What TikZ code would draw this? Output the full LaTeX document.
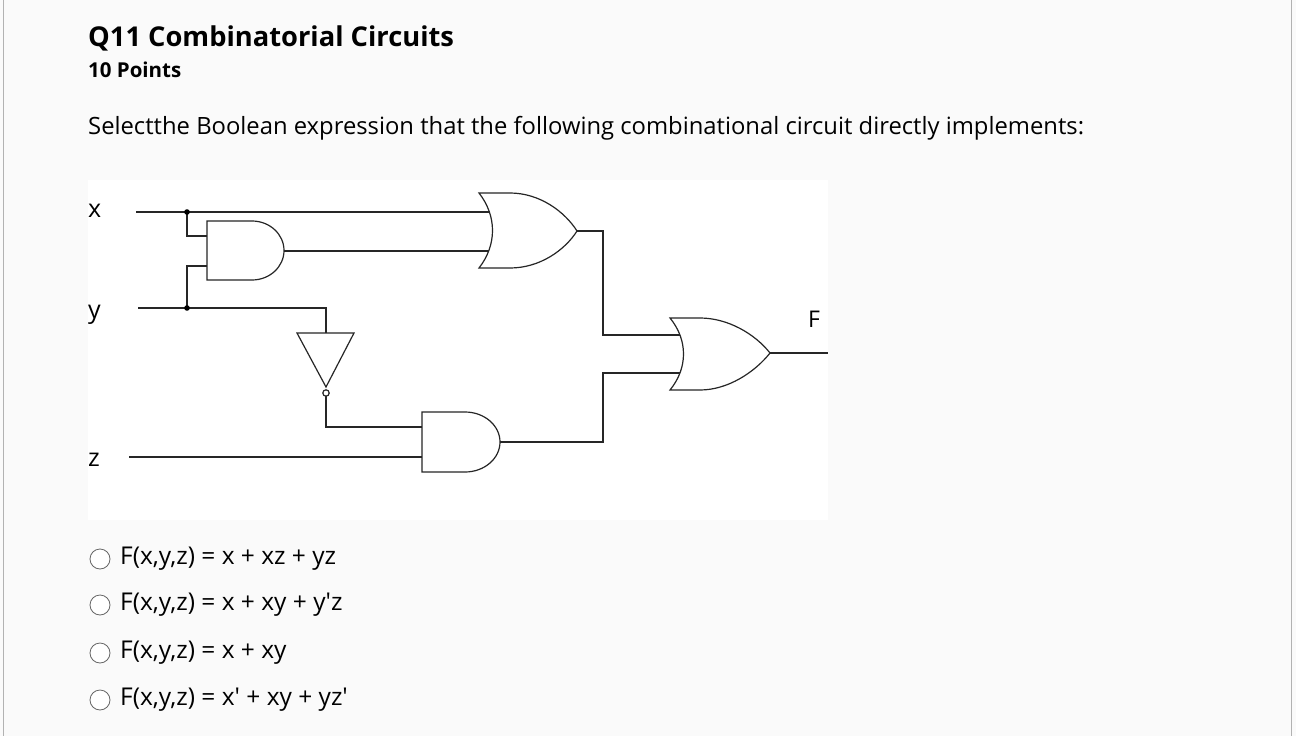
\documentclass[tikz,border=0pt]{standalone}
\usepackage{fontspec}
\setmainfont{Open Sans}
\begin{document}
\begin{tikzpicture}[x=1pt,y=-1pt,
  wire/.style={line width=1.2pt,black!85},
  gate/.style={line width=1.2pt,black!85,fill=white},
  lbl/.style={anchor=base west,inner sep=0pt},
  opt/.style={draw=black!60,line width=0.8pt,fill=white,circle,minimum size=20pt,inner sep=0pt}]
\useasboundingbox (0,0) rectangle (1296,736);
\fill[black!2] (0,0) rectangle (1296,736);
\draw[black!30,line width=1pt] (3,-2) -- (3,738) (1291,-2) -- (1291,738);
\node[lbl] (t) at (88,46) {\fontsize{27.3}{30}\selectfont\bfseries Q11 Combinatorial Circuits};
\node[lbl] (p) at (88,77) {\fontsize{20.5}{22}\selectfont\bfseries 10 Points};
\node[lbl] (q) at (88,134) {\fontsize{23.8}{26}\selectfont Selectthe Boolean expression that the following combinational circuit directly implements:};
\fill[white] (88,180) rectangle (828,520);
% labels
\node[lbl] (lx) at (88,217) {\fontsize{25}{26}\selectfont x};
\node[lbl] (ly) at (88,318) {\fontsize{25}{26}\selectfont y};
\node[lbl] (lz) at (88,466) {\fontsize{25}{26}\selectfont z};
\node[lbl] (lf) at (808,327) {\fontsize{23}{26}\selectfont F};
% coordinates
\coordinate (xs) at (136,212); \coordinate (xd) at (187,212);
\coordinate (ys) at (138,308); \coordinate (yd) at (187,308);
\coordinate (zs) at (129,457);
% wires
\draw[wire] (xs) -- (492,212);
\draw[wire] (xd) |- (207,236);
\draw[wire] (yd) |- (207,266);
\draw[wire] (ys) -- (326,308) -- (326,333);
\draw[wire] (326,396) |- (422,427);
\draw[wire] (zs) -- (422,457);
\draw[wire] (284,251) -- (492,251);
\draw[wire] (577,231) -| (603,335) -- (682,335);
\draw[wire] (500,442) -| (603,373) -- (682,373);
\draw[wire] (770,353) -- (828,353);
\fill[black] (xd) circle (2.8) (yd) circle (2.8);
% AND1
\draw[gate] (252,221) -- (207,221) -- (207,280) -- (252,280) arc (90:-90:32 and 29.5) -- cycle;
% OR1
\draw[gate] (479,193) -- (510,193) .. controls (540,193) and (565,212) .. (577,231)
  .. controls (565,250) and (540,268) .. (510,268) -- (479,268)
  .. controls (497,245) and (497,216) .. (479,193) -- cycle;
% NOT
\draw[gate] (297,333) -- (354,333) -- (326,387) -- cycle;
\draw[gate] (326,393) circle (3.2);
% AND2
\draw[gate] (465,412) -- (422,412) -- (422,472) -- (465,472) arc (90:-90:35 and 30) -- cycle;
% OR2
\draw[gate] (670,318) -- (700,318) .. controls (728,318) and (755,334) .. (770,353)
  .. controls (755,372) and (728,390) .. (700,390) -- (670,390)
  .. controls (688,368) and (688,340) .. (670,318) -- cycle;
% options
\foreach \yy/\tx [count=\i] in {559/{F(x,y,z) = x + xz + yz},605/{F(x,y,z) = x + xy + y\textquotesingle z},653/{F(x,y,z) = x + xy},700/{F(x,y,z) = x\textquotesingle{} + xy + yz\textquotesingle}}{
  \node[opt] (c\i) at (100,\yy) {};
  \node[anchor=west,inner sep=0pt] (o\i) at (120,\yy) {\fontsize{24.5}{26}\selectfont \tx};
}
\end{tikzpicture}
\end{document}
